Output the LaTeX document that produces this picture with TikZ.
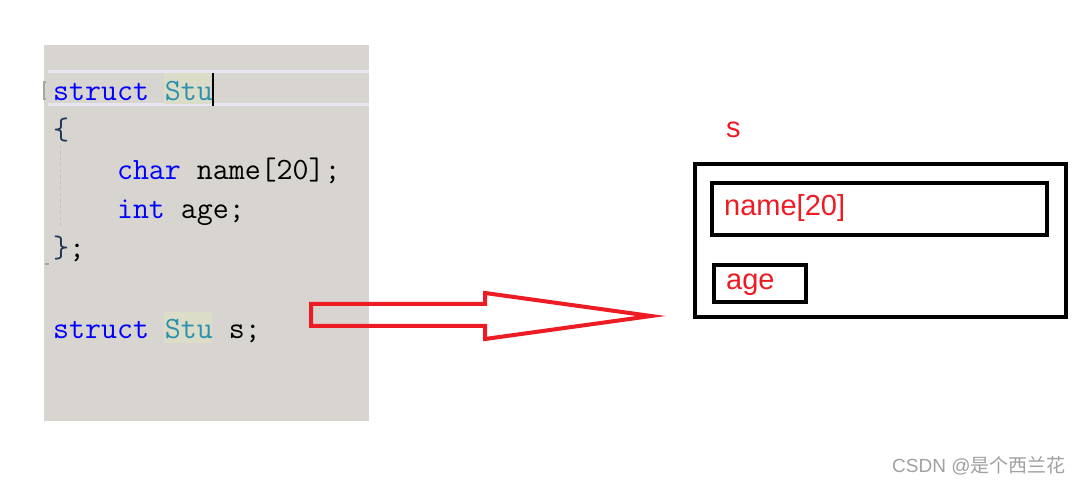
\documentclass[tikz,border=0pt]{standalone}
\usepackage{fontspec}
\setmainfont{Liberation Sans}
\newfontfamily\cjk{Noto Sans CJK SC}
\definecolor{panelgray}{HTML}{D8D4D0}
\definecolor{kwblue}{HTML}{0000FF}
\definecolor{typeteal}{HTML}{2B91AF}
\definecolor{braceblue}{HTML}{1F3A5A}
\definecolor{hlgreen}{HTML}{DCDDC8}
\definecolor{hlline}{HTML}{E8E6EE}
\definecolor{arrowred}{HTML}{ED1C24}
\definecolor{wmgray}{HTML}{A0A0A0}
\tikzset{
  code/.style={anchor=base west, inner sep=0pt, font=\ttfamily\fontsize{31}{31}\selectfont},
  box/.style={draw=black, line width=4pt},
  lbl/.style={anchor=base west, inner sep=0pt, text=arrowred, font=\fontsize{29}{29}\selectfont},
}
\begin{document}
\begin{tikzpicture}[x=1pt,y=-1pt]
\useasboundingbox (0,0) rectangle (1079,486);
\fill[white] (0,0) rectangle (1079,486);
% code panel
\fill[panelgray] (44,45) rectangle (369,421);
\draw[hlline, line width=3pt] (48,72) -- (369,72) (48,105) -- (369,105);
\fill[hlgreen] (164,73) rectangle (211,104);
\fill[hlgreen] (164,312) rectangle (212,343);
\draw[black, line width=2pt] (213,73) -- (213,106);
\draw[gray!70, line width=1.5pt] (46,82) -- (44,82) -- (44,99) -- (46,99);
\draw[gray!50, dashed, line width=0.8pt] (60,145) -- (60,228);
\draw[gray!70, line width=1.5pt] (45,264) -- (49,264);
\node[code] (l1) at (53,101) {\textcolor{kwblue}{struct} \textcolor{typeteal}{Stu}};
\node[code] (l2) at (53,140) {\textcolor{braceblue}{\{}};
\node[code] (l3) at (53,180) {\phantom{xxxx}\textcolor{kwblue}{char} name[20];};
\node[code] (l4) at (53,219) {\phantom{xxxx}\textcolor{kwblue}{int} age;};
\node[code] (l5) at (53,258) {\textcolor{braceblue}{\}};};
\node[code] (l6) at (53,338) {\textcolor{kwblue}{struct} \textcolor{typeteal}{Stu} s;};
% arrow
\draw[arrowred, line width=4pt, line join=miter]
  (311,304) -- (485,304) -- (485,293) -- (651,316) -- (485,339) -- (485,326) -- (311,326) -- cycle;
% struct layout
\node[lbl] (s) at (726,138) {s};
\draw[box] (695,164) rectangle (1066,317);
\draw[box] (712,183) rectangle (1047,235);
\draw[box] (714,265) rectangle (806,302);
\node[lbl] (name) at (724,216) {name[20]};
\node[lbl] (age) at (726,290) {age};
% watermark
\node[anchor=west, inner sep=0pt, text=wmgray, font=\fontsize{19}{19}\selectfont] (wm) at (892,466) {CSDN @{\cjk 是个西兰花}};
\end{tikzpicture}
\end{document}
